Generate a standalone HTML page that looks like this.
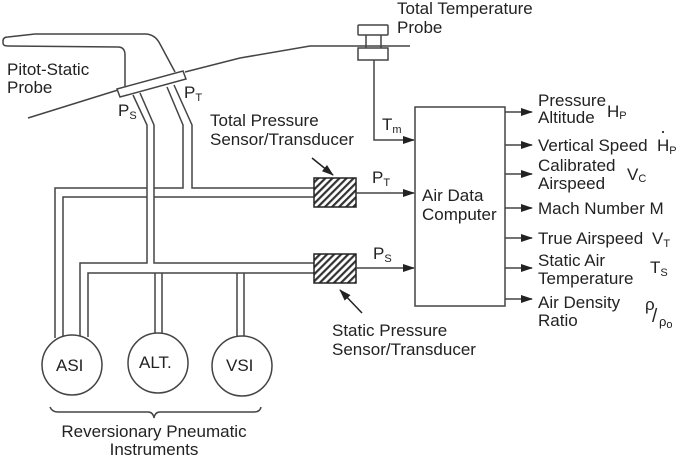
<!DOCTYPE html>
<html><head><meta charset="utf-8"><style>
body{margin:0;background:#fff}
svg{display:block}
text{font-family:"Liberation Sans",sans-serif;font-size:17px;fill:#222}
.s{font-size:11px}
</style></head><body>
<svg width="685" height="460" viewBox="0 0 685 460" xmlns="http://www.w3.org/2000/svg">
<defs>
<marker id="a" markerWidth="12" markerHeight="8" refX="11" refY="4" orient="auto" markerUnits="userSpaceOnUse"><path d="M0,0 L12,4 L0,8 Z" fill="#222"/></marker>
<pattern id="h" width="5" height="5" patternUnits="userSpaceOnUse" patternTransform="rotate(45)"><rect width="5" height="5" fill="#fff"/><rect width="2.2" height="5" fill="#333"/></pattern>
</defs>
<g fill="none" stroke="#444" stroke-width="1.5">
<path d="M35,34 L145,34 Q155,34 160,44 L175,72"/>
<path d="M35,34 L8,37 Q3,37 3,41 L3,43 Q3,46 8,46 L118,47 Q125,47 125,55 L125,90"/>
<path d="M28,118 L118,90"/>
<path d="M185,72 L240,58 L310,46 L410,46"/>
<polygon points="117,89 183,71 186,79 120,97" fill="#fff"/>
<path d="M133,95 L147,125 L147,263 L80,263 L80,337"/>
<path d="M140,93 L154,125 L154,263 L315,263"/>
<path d="M88,337 L88,273 L315,273"/>
<path d="M155,333 L155,273 M162,333 L162,273"/>
<path d="M237,337 L237,273 M244,337 L244,273"/>
<path d="M167,87 L183,125 L183,188 L154,188 M147,188 L55,188 L55,338"/>
<path d="M174,85 L192,125 L192,188 L315,188"/>
<path d="M63,337 L63,197 L147,197 M154,197 L315,197"/>
<rect x="358" y="25" width="30" height="10" rx="1" fill="#fff"/>
<path d="M366,35 V48 M381,35 V48"/>
<rect x="358" y="48" width="30" height="12" fill="#fff"/>
<path d="M374,60 L374,140 L414,140" marker-end="url(#a)"/>
<rect x="314" y="178" width="42" height="29" fill="url(#h)" stroke="#222"/>
<rect x="314" y="254" width="42" height="29" fill="url(#h)" stroke="#222"/>
<path d="M356,193 L414,193" marker-end="url(#a)"/>
<path d="M356,268 L414,268" marker-end="url(#a)"/>
<path d="M312,158 L333,175" stroke="#222" marker-end="url(#a)"/>
<path d="M362,313 L340,290" stroke="#222" marker-end="url(#a)"/>
<rect x="415" y="107" width="90" height="199"/>
<path d="M505,112 H532" marker-end="url(#a)"/>
<path d="M505,145 H532" marker-end="url(#a)"/>
<path d="M505,174 H532" marker-end="url(#a)"/>
<path d="M505,208 H532" marker-end="url(#a)"/>
<path d="M505,238 H532" marker-end="url(#a)"/>
<path d="M505,268 H532" marker-end="url(#a)"/>
<path d="M505,299 H532" marker-end="url(#a)"/>
<circle cx="72" cy="365" r="30" fill="#fff"/>
<circle cx="158" cy="363" r="30" fill="#fff"/>
<circle cx="242" cy="366" r="30" fill="#fff"/>
<path d="M50,407 Q52,412 58,412 L148,412 Q153,412 154,418 Q155,412 160,412 L254,412 Q260,412 261,407"/>
</g>
<text x="7" y="75">Pitot-Static</text>
<text x="7" y="93">Probe</text>
<text x="397" y="14">Total Temperature</text>
<text x="397" y="33">Probe</text>
<text x="118" y="116">P<tspan class="s" dy="3">S</tspan></text>
<text x="184" y="98">P<tspan class="s" dy="3">T</tspan></text>
<text x="210" y="126">Total Pressure</text>
<text x="210" y="145">Sensor/Transducer</text>
<text x="332" y="336">Static Pressure</text>
<text x="332" y="355">Sensor/Transducer</text>
<text x="382" y="130">T<tspan class="s" dy="3">m</tspan></text>
<text x="372" y="183">P<tspan class="s" dy="3">T</tspan></text>
<text x="373" y="259">P<tspan class="s" dy="3">S</tspan></text>
<text x="422" y="201">Air Data</text>
<text x="422" y="220">Computer</text>
<text x="538" y="106">Pressure</text>
<text x="538" y="123">Altitude</text>
<text x="607" y="117">H<tspan class="s" dy="2">P</tspan></text>
<text x="538" y="151">Vertical Speed</text>
<text x="657" y="151">H<tspan class="s" dy="3">P</tspan></text>
<text x="660" y="137" style="font-size:18px">·</text>
<text x="538" y="171">Calibrated</text>
<text x="538" y="189">Airspeed</text>
<text x="627" y="180">V<tspan class="s" dy="2">C</tspan></text>
<text x="538" y="214">Mach Number M</text>
<text x="538" y="244">True Airspeed</text>
<text x="652" y="244">V<tspan class="s" dy="3">T</tspan></text>
<text x="538" y="266">Static Air</text>
<text x="538" y="284">Temperature</text>
<text x="650" y="273">T<tspan class="s" dy="3">S</tspan></text>
<text x="538" y="308">Air Density</text>
<text x="538" y="326">Ratio</text>
<text x="645" y="310">ρ</text>
<text x="652" y="322" style="font-size:19px">/</text>
<text x="659" y="326" style="font-size:13px">ρ<tspan class="s" dy="2">o</tspan></text>
<text x="56" y="371">ASI</text>
<text x="139" y="368">ALT.</text>
<text x="226" y="371">VSI</text>
<text x="154" y="437" text-anchor="middle">Reversionary Pneumatic</text>
<text x="154" y="455" text-anchor="middle">Instruments</text>
</svg>
</body></html>
